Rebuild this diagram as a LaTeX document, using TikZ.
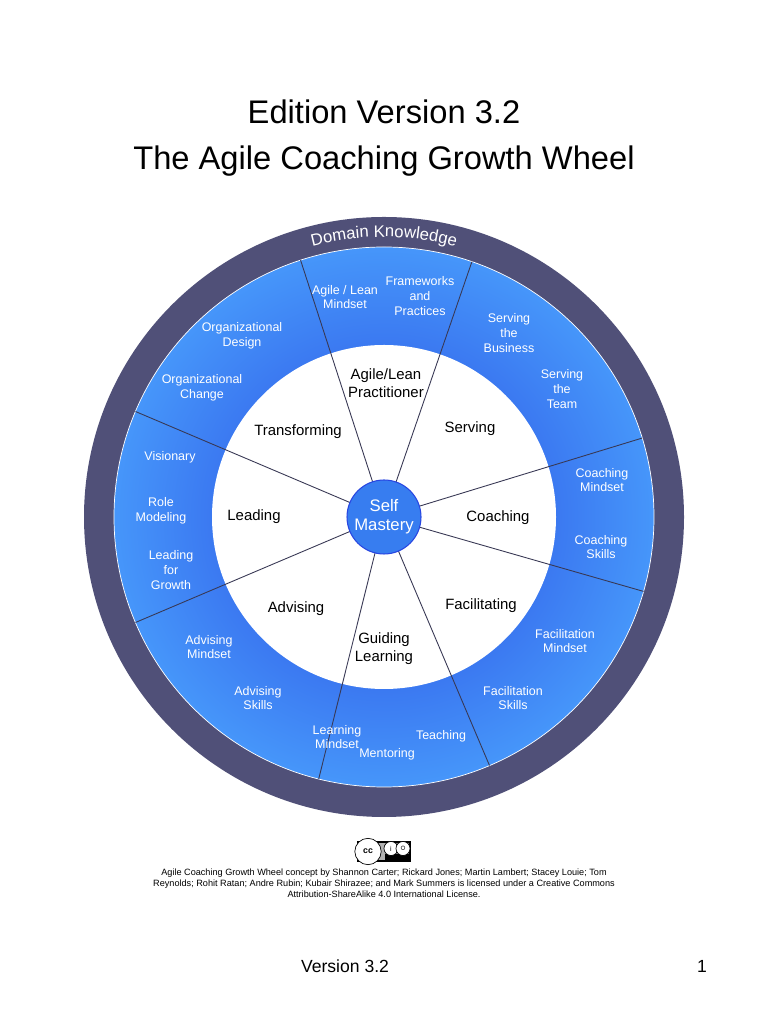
\documentclass[tikz,border=0pt]{standalone}
\usepackage{fontspec}
\setmainfont{Liberation Sans}
\usetikzlibrary{calc,decorations.text}
\definecolor{ringslate}{RGB}{80,80,120}
\definecolor{blueout}{RGB}{70,150,250}
\definecolor{bluein}{RGB}{40,70,225}
\definecolor{selfblue}{RGB}{55,125,240}
\tikzset{
  outer/.style={font=\fontsize{7.1}{8.3}\selectfont,text=white,align=center},
  inner/.style={font=\fontsize{8.5}{10.2}\selectfont,text=black,align=center},
  spoke/.style={draw=ringslate!70!black,line width=0.5pt}
}
\begin{document}
\begin{tikzpicture}[x=0.02cm,y=0.02cm]
  \useasboundingbox (0,0) rectangle (768,1024);
  \fill[white] (0,0) rectangle (768,1024);

  % titles
  \node[font=\fontsize{18.6}{20}\selectfont] (t1) at (384,912) {Edition Version 3.2};
  \node[font=\fontsize{18.6}{20}\selectfont] (t2) at (384,863) {The Agile Coaching Growth Wheel};

  % wheel
  \coordinate (c) at (384,507);
  \fill[ringslate] (c) circle (300);
  \shade[inner color=bluein,outer color=blueout] (c) circle (270);
  \fill[white] (c) circle (172);
  \draw[white,line width=0.4pt] (c) circle (270);
  \foreach \a in {108,71,17,-16,-67,-104,-157,157}
    \draw[spoke] (c) -- ++(\a:270);
  \fill[selfblue] (c) circle (37);
  \draw[bluein,line width=0.6pt] (c) circle (37);

  \path[decorate,decoration={text along path,text align=center,
    text={|\fontsize{9.5}{10}\selectfont\color{white}|Domain Knowledge}}]
    ($(c)+(118:280)$) arc (118:62:280);

  % inner labels
  \node[inner] (ap) at (386,641) {Agile/Lean\\Practitioner};
  \node[inner] (sv) at (470,595) {Serving};
  \node[inner] (co) at (498,506) {Coaching};
  \node[inner] (fa) at (481,418) {Facilitating};
  \node[inner] (gl) at (384,375) {Guiding\\Learning};
  \node[inner] (ad) at (296,415) {Advising};
  \node[inner] (le) at (254,507) {Leading};
  \node[inner] (tr) at (298,592) {Transforming};
  \node[inner,text=white,font=\fontsize{9.5}{11}\selectfont] (sm) at (384,507) {Self\\Mastery};

  % outer labels
  \node[outer] (alm) at (345,727) {Agile / Lean\\Mindset};
  \node[outer] (fp) at (420,728) {Frameworks\\and\\Practices};
  \node[outer] (stb) at (509,691) {Serving\\the\\Business};
  \node[outer] (stt) at (562,635) {Serving\\the\\Team};
  \node[outer] (cm) at (602,544) {Coaching\\Mindset};
  \node[outer] (cs) at (601,477) {Coaching\\Skills};
  \node[outer] (fm) at (565,383) {Facilitation\\Mindset};
  \node[outer] (fs) at (513,326) {Facilitation\\Skills};
  \node[outer] (te) at (441,288) {Teaching};
  \node[outer] (me) at (387,270) {Mentoring};
  \node[outer] (lm) at (337,287) {Learning\\Mindset};
  \node[outer] (as) at (258,326) {Advising\\Skills};
  \node[outer] (am) at (209,377) {Advising\\Mindset};
  \node[outer] (lg) at (171,454) {Leading\\for\\Growth};
  \node[outer] (rm) at (161,513) {Role\\Modeling};
  \node[outer] (vi) at (170,567) {Visionary};
  \node[outer] (oc) at (202,636) {Organizational\\Change};
  \node[outer] (od) at (242,688) {Organizational\\Design};

  % licence badge
  \draw[fill=gray!60,line width=0.6pt] (358,163) rectangle (410,182);
  \fill[black] (385,163) rectangle (410,170);
  \node[circle,draw,fill=white,inner sep=0pt,minimum size=15,font=\fontsize{5}{5}\selectfont\bfseries] (cc) at (368,172.5) {cc};
  \node[circle,draw,fill=white,inner sep=0pt,minimum size=8,font=\fontsize{4}{4}\selectfont] (by) at (391,175.5) {i};
  \node[circle,draw,fill=white,inner sep=0pt,minimum size=8,font=\fontsize{4}{4}\selectfont] (sa) at (403,175.5) {$\circ$};

  \node[font=\fontsize{5.2}{6.3}\selectfont,align=center] (lic) at (384,141)
    {Agile Coaching Growth Wheel concept by Shannon Carter; Rickard Jones; Martin Lambert; Stacey Louie; Tom\\
     Reynolds; Rohit Ratan; Andre Rubin; Kubair Shirazee; and Mark Summers is licensed under a Creative Commons\\
     Attribution-ShareAlike 4.0 International License.};

  % footer
  \node[font=\fontsize{10}{12}\selectfont] (ver) at (345,58) {Version 3.2};
  \node[font=\fontsize{10}{12}\selectfont] (pg) at (702,58) {1};
\end{tikzpicture}
\end{document}
